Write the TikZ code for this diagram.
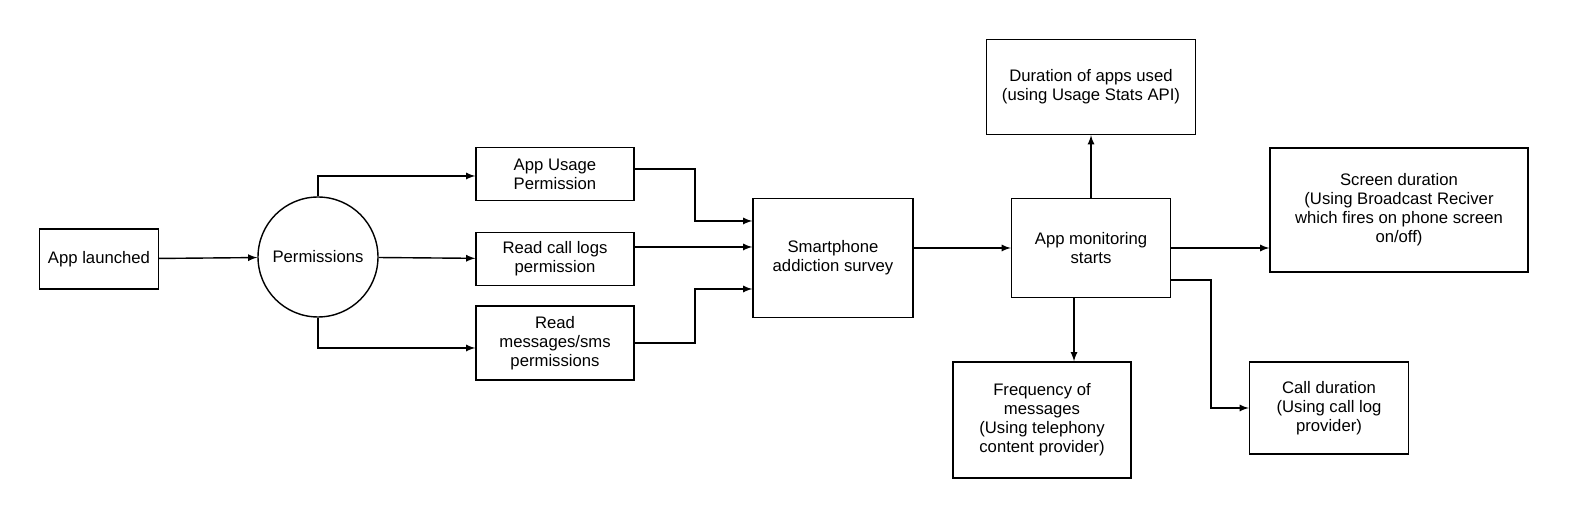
\documentclass[tikz,border=0pt]{standalone}
\usepackage{fontspec}
\setmainfont{Liberation Sans}
\usetikzlibrary{arrows, positioning}
\tikzstyle{process} = [rectangle, draw=black, thick, text centered, align=center, font=\fontsize{9.5}{10.8}\selectfont]
\tikzstyle{decision} = [circle, draw=black, thick, minimum size=2.4cm, font=\fontsize{9.5}{10.8}\selectfont]
\tikzstyle{arrow} = [thick,->,>=latex]

\begin{document}
\begin{tikzpicture}[x=0.02cm, y=-0.02cm]
\useasboundingbox (0,0) rectangle (1580,523);
\node (launch) [process, minimum width=2.38cm, minimum height=1.2cm] at (99,259) {App launched};
\node (perm) [decision] at (318,257) {Permissions};
\node (usage) [process, minimum width=3.16cm, minimum height=1.06cm] at (555,174) {App Usage\\Permission};
\node (calls) [process, minimum width=3.16cm, minimum height=1.06cm] at (555,259) {Read call logs\\permission};
\node (sms) [process, minimum width=3.16cm, minimum height=1.48cm] at (555,343) {Read\\messages/sms\\permissions};
\node (survey) [process, minimum width=3.2cm, minimum height=2.38cm] at (833,258) {Smartphone\\addiction survey};
\node (monitor) [process, minimum width=3.18cm, minimum height=1.98cm] at (1091,248) {App monitoring\\starts};
\node (apps) [process, minimum width=4.18cm, minimum height=1.9cm] at (1091,87) {Duration of apps used\\(using Usage Stats API)};
\node (screen) [process, minimum width=5.16cm, minimum height=2.48cm] at (1399,210) {Screen duration\\(Using Broadcast Reciver\\which fires on phone screen\\on/off)};
\node (freq) [process, minimum width=3.56cm, minimum height=2.32cm] at (1042,420) {Frequency of\\messages\\(Using telephony\\content provider)};
\node (callDur) [process, minimum width=3.18cm, minimum height=1.84cm] at (1329,408) {Call duration\\(Using call log\\provider)};
\draw [arrow] (launch) -- (perm);
\draw [arrow] (perm.north) |- (usage.west |- 0,176);
\draw [arrow] (perm) -- (calls);
\draw [arrow] (perm.south) |- (sms.west |- 0,348);
\draw [arrow] (usage.east |- 0,169) -| (695,221) -- (survey.west |- 0,221);
\draw [arrow] (calls.east |- 0,247) -- (survey.west |- 0,247);
\draw [arrow] (sms.east) -| (695,289) -- (survey.west |- 0,289);
\draw [arrow] (survey.east |- 0,248) -- (monitor.west);
\draw [arrow] (monitor) -- (apps);
\draw [arrow] (monitor.east) -- (screen.west |- 0,248);
\draw [arrow] (monitor.south -| 1074,0) -- (freq.north -| 1074,0);
\draw [arrow] (monitor.east |- 0,280) -| (1211,408) -- (callDur.west);
\end{tikzpicture}
\end{document}
